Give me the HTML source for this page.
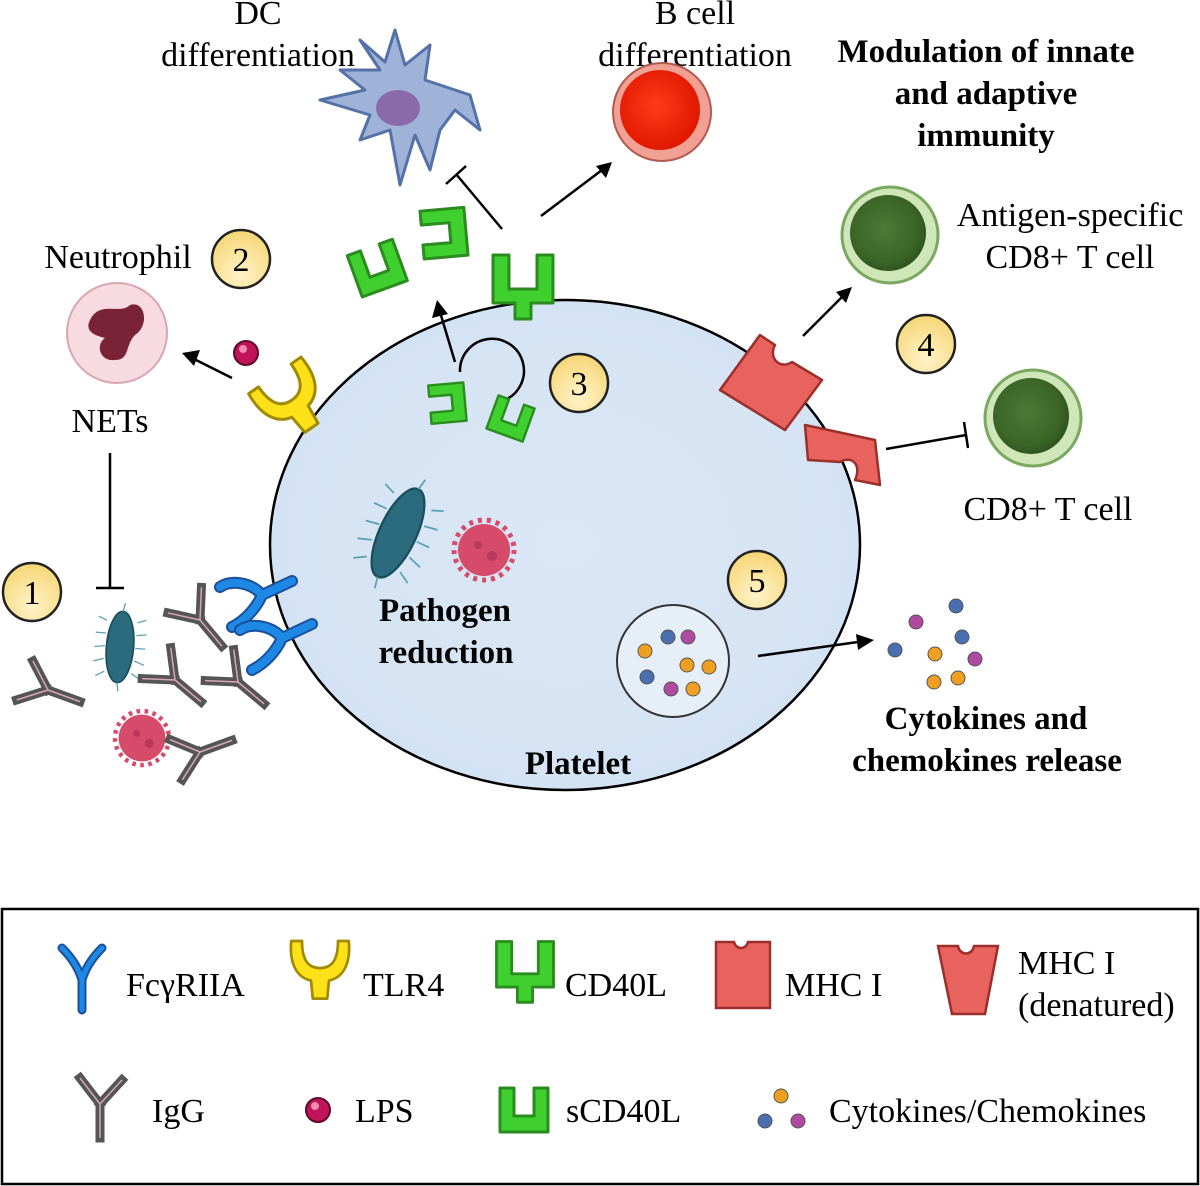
<!DOCTYPE html>
<html><head><meta charset="utf-8"><style>
html,body{margin:0;padding:0;background:#fff;}
svg{display:block;}
text{font-family:"Liberation Serif",serif;fill:#000;}
.b{font-weight:bold;}
</style></head><body>
<svg width="1200" height="1186" viewBox="0 0 1200 1186" xmlns="http://www.w3.org/2000/svg">
<defs>
<radialGradient id="num" cx="50%" cy="75%" r="70%"><stop offset="0" stop-color="#fff3c8"/><stop offset="1" stop-color="#f6d77a"/></radialGradient>
<radialGradient id="plt" cx="50%" cy="50%" r="60%"><stop offset="0" stop-color="#dbe7f5"/><stop offset="1" stop-color="#d3e2f3"/></radialGradient>
<radialGradient id="gr" cx="45%" cy="45%" r="55%"><stop offset="0" stop-color="#4e7a36"/><stop offset="0.8" stop-color="#3a6527"/><stop offset="1" stop-color="#2f5520"/></radialGradient>
<radialGradient id="red" cx="45%" cy="45%" r="55%"><stop offset="0" stop-color="#ff3b1a"/><stop offset="1" stop-color="#e01800"/></radialGradient>
<g id="igg">
 <path d="M0,0 L0,34 M0,0 L-20,-26 M0,0 L22,-24" stroke="#555" stroke-width="9" fill="none" stroke-linecap="square"/>
 <path d="M0,0 L0,34 M0,0 L-20,-26 M0,0 L22,-24" stroke="#d9a6b8" stroke-width="1.5" fill="none"/>
</g>
<g id="fcr">
 <path d="M0,0 L30,-14 M0,0 C-10,-12 -30,-16 -42,-8 M0,0 C-6,14 -18,26 -30,32" stroke="#1a4f9c" stroke-width="12" fill="none" stroke-linecap="round"/>
 <path d="M0,0 L30,-14 M0,0 C-10,-12 -30,-16 -42,-8 M0,0 C-6,14 -18,26 -30,32" stroke="#1e88e5" stroke-width="8" fill="none" stroke-linecap="round"/>
</g>
<g id="cd">
 <path d="M-24,-24 L-10,-24 L-10,4 L10,4 L10,-24 L24,-24 L24,20 L-24,20 Z" fill="#3fcf2f" stroke="#2a8c1e" stroke-width="3" stroke-linejoin="round"/>
</g>
<g id="cdl">
 <path d="M-30,-30 L-14,-30 L-14,4 L14,4 L14,-30 L30,-30 L30,18 L8,18 L8,34 L-8,34 L-8,18 L-30,18 Z" fill="#3fcf2f" stroke="#2a8c1e" stroke-width="3" stroke-linejoin="round"/>
</g>
<g id="tlr">
 <path d="M-32,-30 C-34,-8 -28,10 -10,14 L-8,34 L8,34 L10,14 C28,10 34,-8 32,-30 L20,-30 C20,-10 14,0 0,0 C-14,0 -20,-10 -20,-30 Z" fill="#ffe11a" stroke="#a08a00" stroke-width="3" stroke-linejoin="round"/>
</g>
<g id="bac">
 <ellipse cx="0" cy="0" rx="16" ry="42" fill="#2b6b7d" stroke="#1a4e5c" stroke-width="2"/>
 <path d="M-18,-30 l-10,-4 M-18,-15 l-12,0 M-18,0 l-12,2 M-18,15 l-12,4 M-16,30 l-10,6 M18,-30 l10,-4 M18,-15 l12,-2 M18,0 l12,0 M18,15 l12,4 M16,30 l10,6 M0,-42 l2,-10 M0,42 l2,10" stroke="#5aa0b4" stroke-width="1.5"/>
</g>
<g id="vir">
 <circle r="26" fill="#d64a6a"/>
 <circle r="30" fill="none" stroke="#d64a6a" stroke-width="5" stroke-dasharray="4 5"/>
 <circle cx="-6" cy="-5" r="4" fill="#b8385a"/><circle cx="8" cy="6" r="5" fill="#b8385a"/>
</g>
</defs>

<ellipse cx="565" cy="545" rx="295" ry="245" fill="url(#plt)" stroke="#000" stroke-width="2.5"/>

<g font-size="34" text-anchor="middle">
<text x="258" y="24">DC</text>
<text x="258" y="66">differentiation</text>
<text x="695" y="24">B cell</text>
<text x="695" y="66">differentiation</text>
<text x="1070" y="226">Antigen-specific</text>
<text x="1070" y="268">CD8+ T cell</text>
<text x="1048" y="520">CD8+ T cell</text>
<text x="118" y="268">Neutrophil</text>
<text x="110" y="432">NETs</text>
</g>
<g font-size="33" text-anchor="middle" class="b">
<text x="986" y="62" class="b">Modulation of  innate</text>
<text x="986" y="104" class="b">and adaptive</text>
<text x="986" y="146" class="b">immunity</text>
<text x="445" y="621" class="b">Pathogen</text>
<text x="446" y="663" class="b">reduction</text>
<text x="578" y="774" class="b">Platelet</text>
<text x="986" y="729" class="b">Cytokines and</text>
<text x="987" y="771" class="b">chemokines  release</text>
</g>

<g stroke="#222" stroke-width="2.5" fill="url(#num)">
<circle cx="32" cy="592" r="29"/><circle cx="241" cy="259" r="29"/><circle cx="579" cy="383" r="29"/><circle cx="926" cy="344" r="29"/><circle cx="757" cy="580" r="29"/>
</g>
<g font-size="34" text-anchor="middle">
<text x="32" y="604">1</text><text x="241" y="271">2</text><text x="579" y="395">3</text><text x="926" y="356">4</text><text x="757" y="592">5</text>
</g>

<g transform="translate(400,100)">
<path d="M-20,-30 L-40,-60 L-15,-38 L-5,-70 L5,-35 L30,-55 L25,-20 L70,-5 L80,30 L55,10 L40,30 L30,70 L15,35 L0,85 L-10,30 L-40,40 L-30,15 L-80,0 L-35,-10 L-60,-30 Z" fill="#9fb3d9" stroke="#5572a8" stroke-width="3" stroke-linejoin="round"/>
<ellipse cx="-2" cy="8" rx="22" ry="18" fill="#8a6aa8"/>
</g>
<circle cx="662" cy="112" r="49" fill="#f2a093" stroke="#b05a50" stroke-width="2"/>
<circle cx="660" cy="110" r="40" fill="url(#red)"/>
<circle cx="890" cy="235" r="48" fill="#cfe6b8" stroke="#7aa860" stroke-width="3"/>
<circle cx="888" cy="233" r="38" fill="url(#gr)"/>
<circle cx="1033" cy="418" r="48" fill="#cfe6b8" stroke="#7aa860" stroke-width="3"/>
<circle cx="1031" cy="416" r="38" fill="url(#gr)"/>
<circle cx="117" cy="333" r="50" fill="#f7dbe0" stroke="#d9a7b2" stroke-width="2"/>
<path d="M90,320 C100,300 120,315 130,305 C145,300 150,325 135,335 C125,345 130,360 115,360 C100,362 95,345 105,338 C92,335 85,330 90,320 Z" fill="#7a2238"/>

<g stroke="#000" stroke-width="2.5" fill="none">
<line x1="110" y1="453" x2="110" y2="588"/><line x1="96" y1="588" x2="124" y2="588"/>
<line x1="232" y1="378" x2="192" y2="358"/>
<line x1="502" y1="229" x2="456" y2="174"/><line x1="446" y1="184" x2="466" y2="166"/>
<line x1="541" y1="216" x2="602" y2="170"/>
<line x1="455" y1="362" x2="440" y2="312"/>
<path d="M460,372 A32,32 0 1 1 505,400"/>
<line x1="803" y1="336" x2="842" y2="297"/>
<line x1="886" y1="449" x2="966" y2="435"/><line x1="964" y1="422" x2="968" y2="448"/>
<line x1="758" y1="656" x2="858" y2="642"/>
</g>
<g fill="#000">
<polygon points="182,353 200,350 194,366"/>
<polygon points="612,162 596,166 606,178"/>
<polygon points="437,300 432,318 448,314"/>
<polygon points="852,287 836,292 846,303"/>
<polygon points="874,640 856,634 858,650"/>
</g>

<use href="#cdl" transform="translate(523,285)"/>
<use href="#cd" transform="translate(378,270) rotate(-20)"/>
<use href="#cd" transform="translate(446,233) rotate(-95)"/>
<use href="#cd" transform="translate(449,403) rotate(-95) scale(0.8)"/>
<use href="#cd" transform="translate(510,420) rotate(20) scale(0.8)"/>
<use href="#tlr" transform="translate(292,400) rotate(-35)"/>
<circle cx="246" cy="353" r="12" fill="#c0135a" stroke="#5a0a2a" stroke-width="2"/>
<circle cx="243" cy="349" r="4" fill="#f08ab0"/>
<path d="M720,390 L760,335 L775,345 C768,358 780,370 792,362 L822,380 L785,430 Z" fill="#e8625e" stroke="#9b2f2c" stroke-width="2.5" stroke-linejoin="round"/>
<path d="M805,425 L875,440 L880,485 L855,480 C862,465 852,455 840,462 L808,460 Z" fill="#e8625e" stroke="#9b2f2c" stroke-width="2.5" stroke-linejoin="round"/>
<use href="#bac" transform="translate(398,533) rotate(25) scale(1.15)"/>
<use href="#vir" transform="translate(484,550)"/>
<use href="#bac" transform="translate(120,647) rotate(5) scale(0.85)"/>
<use href="#vir" transform="translate(142,738) scale(0.9)"/>
<use href="#fcr" transform="translate(262,595)"/>
<use href="#fcr" transform="translate(282,638)"/>
<use href="#igg" transform="translate(200,620) rotate(-40)"/>
<use href="#igg" transform="translate(175,680) rotate(-50)"/>
<use href="#igg" transform="translate(238,682) rotate(-50)"/>
<use href="#igg" transform="translate(48,690) rotate(-70)"/>
<use href="#igg" transform="translate(200,752) rotate(-110)"/>
<circle cx="673" cy="661" r="56" fill="#e6eef8" stroke="#333" stroke-width="2"/>
<g stroke="#555" stroke-width="1">
<circle cx="668" cy="637" r="7" fill="#4a6fb0"/><circle cx="688" cy="637" r="7" fill="#b04aa0"/>
<circle cx="645" cy="651" r="7" fill="#f0a020"/><circle cx="687" cy="665" r="7" fill="#f0a020"/>
<circle cx="709" cy="667" r="7" fill="#f0a020"/><circle cx="647" cy="677" r="7" fill="#4a6fb0"/>
<circle cx="671" cy="689" r="7" fill="#b04aa0"/><circle cx="693" cy="689" r="7" fill="#f0a020"/>
<circle cx="956" cy="606" r="7" fill="#4a6fb0"/><circle cx="916" cy="622" r="7" fill="#b04aa0"/>
<circle cx="962" cy="637" r="7" fill="#4a6fb0"/><circle cx="935" cy="654" r="7" fill="#f0a020"/>
<circle cx="975" cy="659" r="7" fill="#b04aa0"/><circle cx="934" cy="682" r="7" fill="#f0a020"/>
<circle cx="958" cy="678" r="7" fill="#f0a020"/><circle cx="895" cy="650" r="7" fill="#4a6fb0"/>
</g>

<rect x="2" y="909" width="1196" height="275" fill="#fff" stroke="#000" stroke-width="2.5"/>
<g transform="translate(82,980)">
<path d="M0,0 L0,30 M0,0 C-4,-14 -12,-24 -20,-32 M0,0 C4,-14 12,-24 20,-32" stroke="#1a4f9c" stroke-width="9" fill="none" stroke-linecap="round"/>
<path d="M0,0 L0,30 M0,0 C-4,-14 -12,-24 -20,-32 M0,0 C4,-14 12,-24 20,-32" stroke="#1e88e5" stroke-width="5" fill="none" stroke-linecap="round"/>
</g>
<g font-size="34">
<text x="126" y="996">FcγRIIA</text>
<text x="363" y="996">TLR4</text>
<text x="565" y="996">CD40L</text>
<text x="785" y="996">MHC I</text>
<text x="1018" y="974">MHC I</text>
<text x="1018" y="1016">(denatured)</text>
<text x="152" y="1122">IgG</text>
<text x="355" y="1122">LPS</text>
<text x="566" y="1122">sCD40L</text>
<text x="829" y="1122">Cytokines/Chemokines</text>
</g>
<use href="#tlr" transform="translate(320,968) scale(0.9)"/>
<use href="#cdl" transform="translate(525,970) scale(0.95)"/>
<path d="M716,942 L734,942 C736,950 746,950 748,942 L770,942 L770,1008 L716,1008 Z" fill="#e8625e" stroke="#9b2f2c" stroke-width="2.5"/>
<path d="M938,946 L958,946 C960,956 972,956 974,946 L998,946 L985,1014 L952,1014 Z" fill="#e8625e" stroke="#9b2f2c" stroke-width="2.5"/>
<use href="#igg" transform="translate(100,1104)"/>
<circle cx="318" cy="1110" r="12" fill="#c0135a" stroke="#5a0a2a" stroke-width="2"/>
<circle cx="315" cy="1106" r="4" fill="#f08ab0"/>
<use href="#cd" transform="translate(524,1112)"/>
<g stroke="#555" stroke-width="1">
<circle cx="781" cy="1096" r="7" fill="#f0a020"/><circle cx="765" cy="1121" r="7" fill="#4a6fb0"/><circle cx="798" cy="1121" r="7" fill="#b04aa0"/>
</g>
</svg>
</body></html>
